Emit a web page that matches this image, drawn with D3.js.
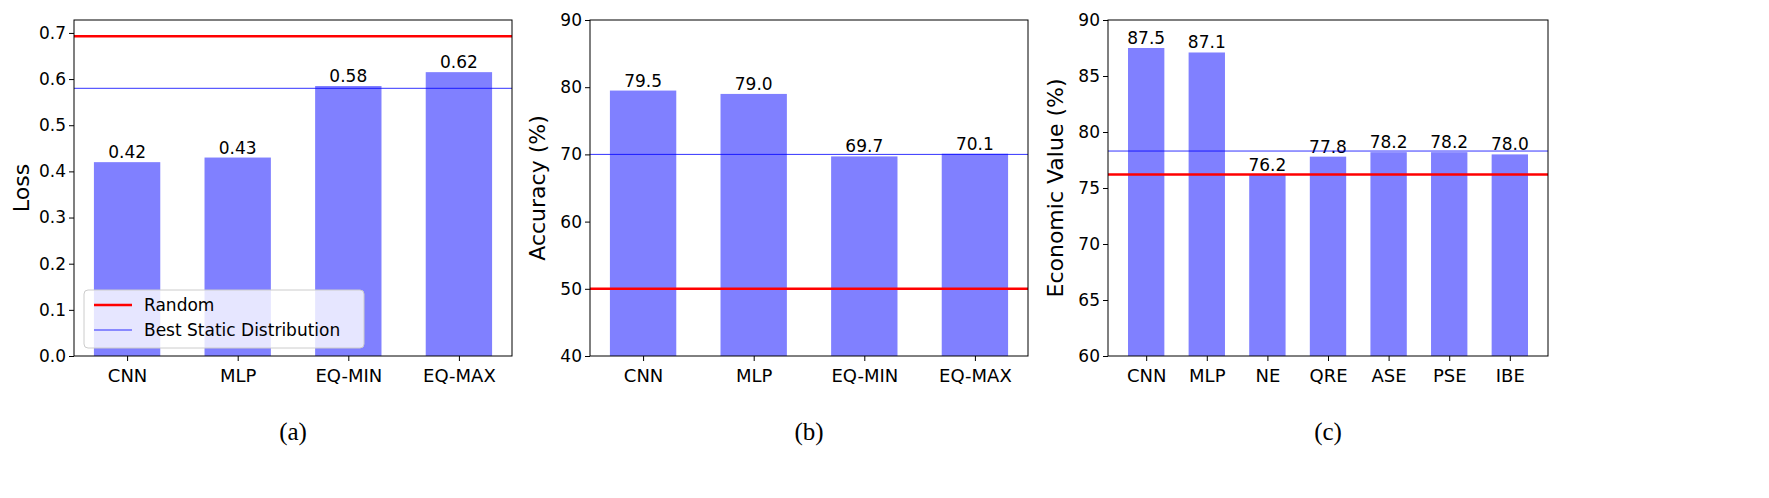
<!DOCTYPE html>
<html><head><meta charset="utf-8">
<script src="https://cdn.jsdelivr.net/npm/d3@7"></script>
<style>body{margin:0;background:#fff}text{font-family:"DejaVu Sans",sans-serif}</style>
</head><body><svg id="c" width="1769" height="498"></svg>
<script>
const catsA = ["CNN","MLP","EQ-MIN","EQ-MAX"];
const lossVals = [0.42,0.43,0.585,0.615];
const lossLabels = ["0.42","0.43","0.58","0.62"];
const accVals = [79.5,79.0,69.7,70.1];
const accLabels = ["79.5","79.0","69.7","70.1"];
const catsC = ["CNN","MLP","NE","QRE","ASE","PSE","IBE"];
const econVals = [87.5,87.1,76.2,77.8,78.2,78.2,78.0];
const econLabels = ["87.5","87.1","76.2","77.8","78.2","78.2","78.0"];
const lossTicks = [0,0.1,0.2,0.3,0.4,0.5,0.6,0.7];
const accTicks = [40,50,60,70,80,90];
const econTicks = [60,65,70,75,80,85,90];
const randomRef = [0.693,50,76.2];
const staticRef = [0.58,70.0,78.3];

const svg = d3.select("#c");
const panels = [
 {x0:74,x1:512,cats:catsA,vals:lossVals,labels:lossLabels,dom:[0,0.728],ticks:lossTicks,fmt:d=>d.toFixed(1),ylab:"Loss",cap:"(a)",legend:true},
 {x0:590,x1:1028,cats:catsA,vals:accVals,labels:accLabels,dom:[40,90],ticks:accTicks,fmt:d=>d,ylab:"Accuracy (%)",cap:"(b)"},
 {x0:1108,x1:1548,cats:catsC,vals:econVals,labels:econLabels,dom:[60,90],ticks:econTicks,fmt:d=>d,ylab:"Economic Value (%)",cap:"(c)"}
];
const pTop=20,pBot=356;
panels.forEach((p,i)=>{
  const n=p.cats.length, m=0.05*(n-1+0.6);
  const x=d3.scaleLinear().domain([-0.3-m,n-1+0.3+m]).range([p.x0,p.x1]);
  const y=d3.scaleLinear().domain(p.dom).range([pBot,pTop]);
  const g=svg.append("g");
  g.selectAll("rect.b").data(p.vals).enter().append("rect")
   .attr("x",(d,j)=>x(j-0.3)).attr("width",x(0.6)-x(0)).attr("y",d=>y(d)).attr("height",d=>pBot-y(d)).attr("fill","#8080ff");
  g.selectAll("text.v").data(p.vals).enter().append("text")
   .attr("x",(d,j)=>x(j)).attr("y",d=>y(d)-4).attr("text-anchor","middle").attr("font-size",17).text((d,j)=>p.labels[j]);
  g.append("line").attr("x1",p.x0).attr("x2",p.x1).attr("y1",y(randomRef[i])).attr("y2",y(randomRef[i])).attr("stroke","#ff0000").attr("stroke-width",2.5);
  g.append("line").attr("x1",p.x0).attr("x2",p.x1).attr("y1",y(staticRef[i])).attr("y2",y(staticRef[i])).attr("stroke","#0000ff").attr("stroke-width",1).attr("opacity",0.8);
  const ya=g.append("g").attr("transform",`translate(${p.x0},0)`).call(d3.axisLeft(y).tickValues(p.ticks).tickFormat(p.fmt).tickSize(5));
  ya.selectAll("text").attr("font-size",17).attr("fill","#000");
  const xa=g.append("g").attr("transform",`translate(0,${pBot})`).call(d3.axisBottom(x).tickValues(d3.range(n)).tickFormat(j=>p.cats[j]).tickSize(5));
  xa.selectAll("text").attr("font-size",18).attr("fill","#000").attr("dy","1em");
  [ya,xa].forEach(a=>{a.select(".domain").remove();a.selectAll("line").attr("stroke","#000");});
  g.append("rect").attr("x",p.x0).attr("y",pTop).attr("width",p.x1-p.x0).attr("height",pBot-pTop).attr("fill","none").attr("stroke","#000").attr("stroke-width",1);
  g.append("text").attr("transform",`translate(${p.x0-45},${(pTop+pBot)/2}) rotate(-90)`).attr("text-anchor","middle").attr("font-size",22).text(p.ylab);
  g.append("text").attr("x",(p.x0+p.x1)/2).attr("y",440).attr("text-anchor","middle").attr("font-size",25).style("font-family","'Liberation Serif',serif").text(p.cap);
  if(p.legend){
    const lg=g.append("g").attr("transform",`translate(${p.x0+10},290)`);
    lg.append("rect").attr("width",280).attr("height",58).attr("rx",4).attr("fill","#fff").attr("fill-opacity",0.8).attr("stroke","#ccc");
    lg.append("line").attr("x1",10).attr("x2",48).attr("y1",15).attr("y2",15).attr("stroke","#ff0000").attr("stroke-width",2.5);
    lg.append("text").attr("x",60).attr("y",21).attr("font-size",17).text("Random");
    lg.append("line").attr("x1",10).attr("x2",48).attr("y1",40).attr("y2",40).attr("stroke","#0000ff").attr("opacity",0.8);
    lg.append("text").attr("x",60).attr("y",46).attr("font-size",17).text("Best Static Distribution");
  }
});
</script></body></html>
